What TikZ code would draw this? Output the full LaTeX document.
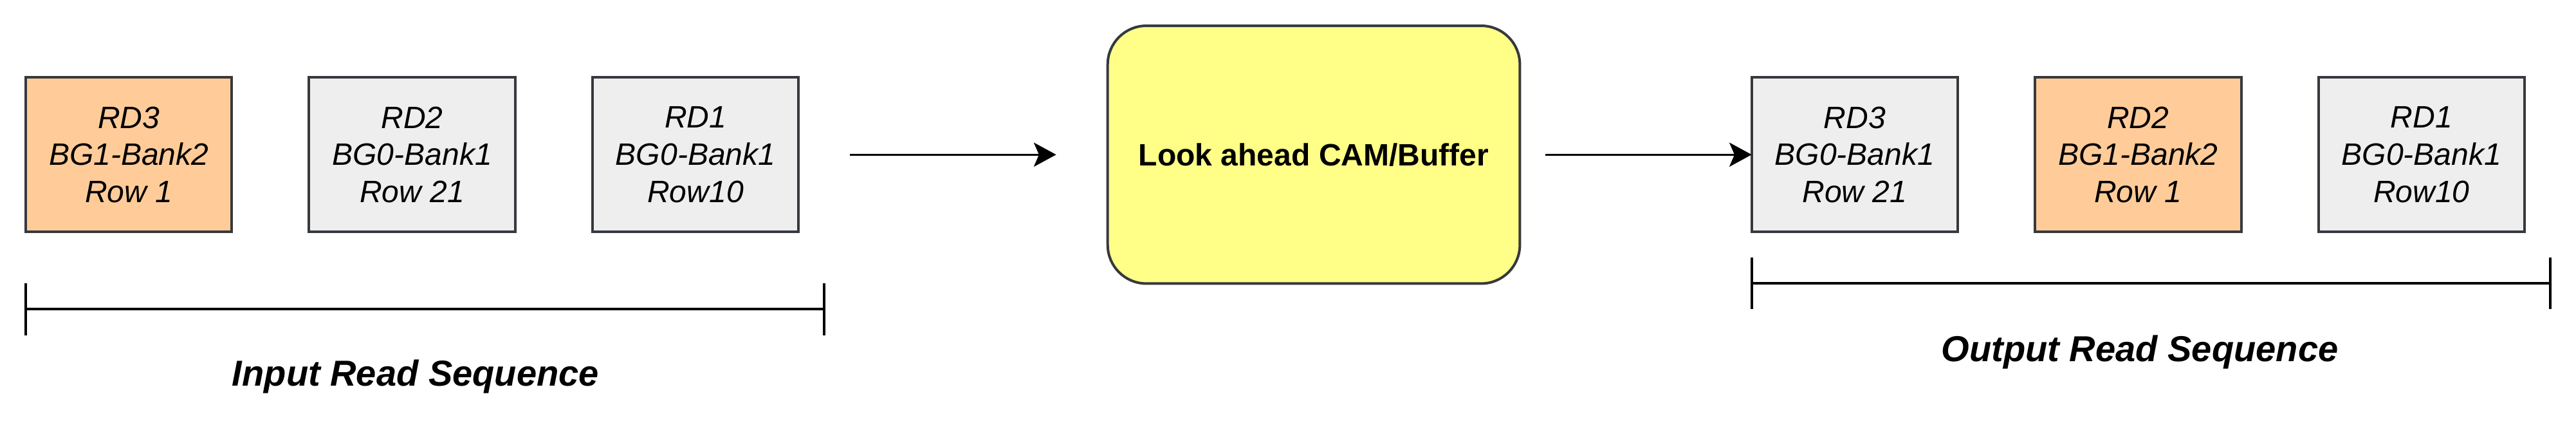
\documentclass[tikz,border=0pt]{standalone}
\usepackage{fontspec}
\setmainfont{Liberation Sans}
\usetikzlibrary{arrows.meta}
\definecolor{boxorange}{HTML}{FFCC99}
\definecolor{boxgray}{HTML}{EEEEEE}
\definecolor{boxedge}{HTML}{36393D}
\definecolor{camyellow}{HTML}{FFFF88}
\tikzset{
  readbox/.style={draw=boxedge, line width=1.5pt, rectangle, minimum width=120pt, minimum height=90pt,
    inner sep=0pt, outer sep=0pt, anchor=north west, align=center,
    font=\fontsize{18pt}{21.6pt}\selectfont\itshape},
  hotbox/.style={readbox, fill=boxorange},
  coldbox/.style={readbox, fill=boxgray},
  cambox/.style={draw=boxedge, line width=1.5pt, fill=camyellow, rounded corners=22.5pt,
    minimum width=240pt, minimum height=150pt, inner sep=0pt, outer sep=0pt, anchor=north west,
    font=\fontsize{18pt}{21.6pt}\selectfont\bfseries},
  flowarrow/.style={line width=1.25pt, -{Stealth[length=13pt, width=14pt, inset=3pt]}},
  bracketline/.style={line width=1.5pt, line cap=butt},
  seqlabel/.style={anchor=base, font=\fontsize{21pt}{25pt}\selectfont\bfseries\itshape}
}
\begin{document}
\begin{tikzpicture}[x=1pt, y=1pt]
\useasboundingbox (0,0) rectangle (1500,-256.25);
% input sequence
\node[hotbox]  (i3) at (15,-45)  {RD3\\BG1-Bank2\\Row 1};
\node[coldbox] (i2) at (180,-45) {RD2\\BG0-Bank1\\Row 21};
\node[coldbox] (i1) at (345,-45) {RD1\\BG0-Bank1\\Row10};
% input bracket
\coordinate (ibl) at (15,-180);
\coordinate (ibr) at (480,-180);
\draw[bracketline] (ibl) -- (ibr);
\draw[bracketline] ([yshift=15pt]ibl) -- ([yshift=-15pt]ibl);
\draw[bracketline] ([yshift=15pt]ibr) -- ([yshift=-15pt]ibr);
\node[seqlabel] (inlab) at (242,-224.6) {Input Read Sequence};
% CAM
\node[cambox] (cam) at (645,-15) {Look ahead CAM/Buffer};
% output sequence
\node[coldbox] (o1) at (1020,-45) {RD3\\BG0-Bank1\\Row 21};
\node[hotbox]  (o2) at (1185,-45) {RD2\\BG1-Bank2\\Row 1};
\node[coldbox] (o3) at (1350,-45) {RD1\\BG0-Bank1\\Row10};
% output bracket
\coordinate (obl) at (1020,-165);
\coordinate (obr) at (1485,-165);
\draw[bracketline] (obl) -- (obr);
\draw[bracketline] ([yshift=15pt]obl) -- ([yshift=-15pt]obl);
\draw[bracketline] ([yshift=15pt]obr) -- ([yshift=-15pt]obr);
\node[seqlabel] (outlab) at (1246,-210.4) {Output Read Sequence};
% arrows
\coordinate (a1s) at (495,-90);
\coordinate (a1e) at (615,-90);
\draw[flowarrow] (a1s) -- (a1e);
\coordinate (a2s) at (900,-90);
\draw[flowarrow] (a2s) -- (o1.west);
\end{tikzpicture}
\end{document}
